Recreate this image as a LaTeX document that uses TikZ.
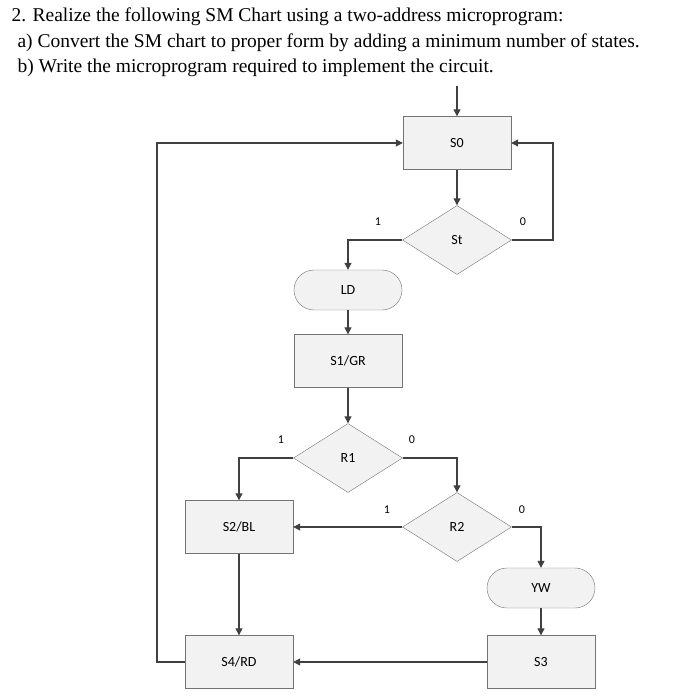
\documentclass[tikz,border=0pt]{standalone}
\usepackage{fontspec}
\setmainfont{Liberation Serif}
\newfontfamily\calfont{Carlito}
\usetikzlibrary{shapes.geometric,arrows.meta}
\begin{document}
\begin{tikzpicture}[x=1pt,y=-1pt,
  box/.style={draw=black!55,fill=black!5,minimum width=108pt,minimum height=53pt,font=\calfont\fontsize{14}{16}\selectfont},
  rbox/.style={box,rounded corners=20pt,minimum height=40pt},
  dia/.style={diamond,draw=black!55,fill=black!5,minimum width=109pt,minimum height=69pt,aspect=1.58,inner sep=0pt,font=\calfont\fontsize{14}{16}\selectfont},
  arr/.style={draw=black!75,line width=1.2pt,-{Triangle[length=7pt,width=7pt]}},
  ln/.style={draw=black!75,line width=1.2pt},
  lab/.style={font=\calfont\fontsize{12}{14}\selectfont}]
\useasboundingbox (0,0) rectangle (679,700);
\node[anchor=west,font=\fontsize{19.5}{22}\selectfont] (t1) at (8,17) {2. Realize the following SM Chart using a two-address microprogram:};
\node[anchor=west,font=\fontsize{19.5}{22}\selectfont] (t2) at (14,43) {a) Convert the SM chart to proper form by adding a minimum number of states.};
\node[anchor=west,font=\fontsize{19.5}{22}\selectfont] (t3) at (14,68) {b) Write the microprogram required to implement the circuit.};
\node[box] (s0) at (457,143) {S0};
\node[dia] (st) at (457,240) {St};
\node[rbox] (ld) at (348,290) {LD};
\node[box] (s1) at (348,361) {S1/GR};
\node[dia] (r1) at (348,458) {R1};
\node[box] (s2) at (239,527) {S2/BL};
\node[dia] (r2) at (457,527) {R2};
\node[rbox] (yw) at (541,588) {YW};
\node[box] (s3) at (541,662) {S3};
\node[box] (s4) at (239,662) {S4/RD};
\coordinate (top) at (457,86);
\draw[arr] (top) -- (s0);
\draw[arr] (s0) -- (st);
\draw[arr] (st.west) -| (ld.north);
\draw[arr] (st.east) -- (553,240) |- (s0.east);
\draw[arr] (ld) -- (s1);
\draw[arr] (s1) -- (r1);
\draw[arr] (r1.west) -| (s2.north);
\draw[arr] (r1.east) -| (r2.north);
\draw[arr] (r2.west) -- (s2.east);
\draw[arr] (r2.east) -| (yw.north);
\draw[arr] (yw) -- (s3);
\draw[arr] (s3) -- (s4);
\draw[arr] (s2) -- (s4);
\draw[arr] (s4.west) -- (157,662) |- (s0.west);
\node[lab] (l1) at (378,222) {1};
\node[lab] (l2) at (523,222) {0};
\node[lab] (l3) at (281,440) {1};
\node[lab] (l4) at (412,440) {0};
\node[lab] (l5) at (387,510) {1};
\node[lab] (l6) at (522,510) {0};
\end{tikzpicture}
\end{document}
